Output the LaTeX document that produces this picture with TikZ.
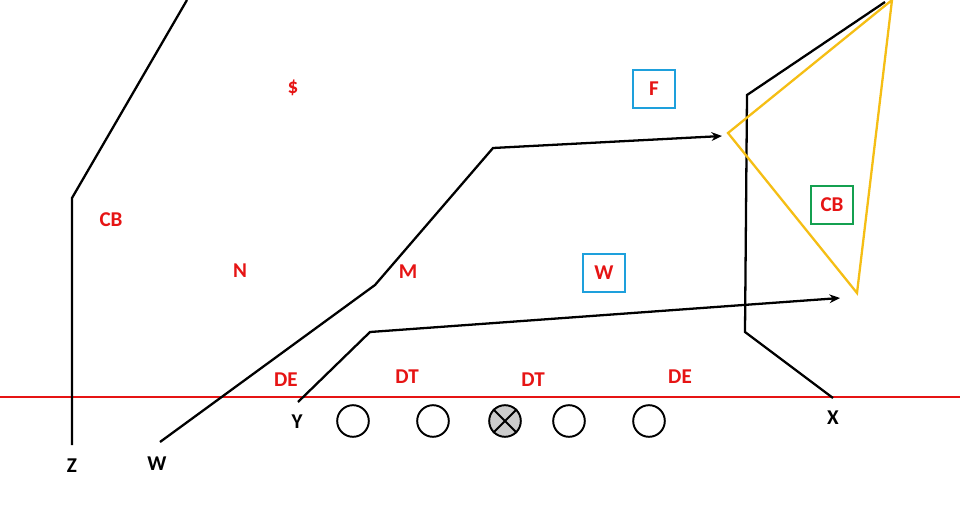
\documentclass[tikz,border=0pt]{standalone}
\usepackage{fontspec}
\setmainfont{Carlito}
\usetikzlibrary{arrows.meta}
\definecolor{rd}{RGB}{230,20,20}
\definecolor{bl}{RGB}{30,160,220}
\definecolor{gr}{RGB}{20,160,80}
\definecolor{yl}{RGB}{245,190,20}
\begin{document}
\begin{tikzpicture}[x=0.02cm,y=-0.02cm,
 route/.style={draw=black,line width=1.3pt},
 arr/.style={route,-{Stealth[length=6pt,width=5pt]}},
 lbl/.style={text=rd,font=\bfseries\large},
 pl/.style={text=black,font=\bfseries\large},
 bx/.style={lbl,draw,line width=1.2pt,minimum width=24pt,minimum height=22pt,inner sep=0pt},
 ol/.style={draw=black,line width=1.1pt,circle,minimum size=18pt,inner sep=0pt}]
\useasboundingbox[fill=white] (0,0) rectangle (960,504);
\draw[rd,line width=1.2pt] (0,397) -- (960,397);
% players
\node[ol] (o1) at (353,421) {};
\node[ol] (o2) at (433,421) {};
\node[ol,fill=gray!40] (c) at (505,421) {};
\draw[line width=1.1pt] (c.north west) -- (c.south east) (c.north east) -- (c.south west);
\node[ol] (o4) at (569,421) {};
\node[ol] (o5) at (649,421) {};
\node[pl] (Z) at (72,466) {Z};
\node[pl] (W) at (157,464) {W};
\node[pl] (Y) at (297,422) {Y};
\node[pl] (X) at (833,418) {X};
% defense
\node[lbl] at (111,220) {CB};
\node[lbl] at (240,271) {N};
\node[lbl] at (293,88) {\$};
\node[lbl] at (408,272) {M};
\node[lbl] at (286,380) {DE};
\node[lbl] at (407,377) {DT};
\node[lbl] at (533,380) {DT};
\node[lbl] at (680,377) {DE};
\node[bx,draw=bl] (F) at (654,89) {F};
\node[bx,draw=bl] (Wb) at (604,273) {W};
\node[bx,draw=gr] (CB) at (832,205) {CB};
% routes
\coordinate (z0) at (72,445); \coordinate (z1) at (72,198); \coordinate (z2) at (187,0);
\draw[route] (z0) -- (z1) -- (z2);
\coordinate (w0) at (160,442); \coordinate (w1) at (375,285); \coordinate (w2) at (493,148); \coordinate (w3) at (722,136);
\draw[arr] (w0) -- (w1) -- (w2) -- (w3);
\coordinate (y0) at (298,402); \coordinate (y1) at (370,332); \coordinate (y2) at (840,298);
\draw[arr] (y0) -- (y1) -- (y2);
\coordinate (x0) at (833,398); \coordinate (x1) at (745,332); \coordinate (x2) at (747,95); \coordinate (x3) at (885,2);
\draw[route] (x0) -- (x1) -- (x2) -- (x3);
\coordinate (t1) at (728,133); \coordinate (t2) at (892,0); \coordinate (t3) at (857,293);
\draw[yl,line width=1.3pt] (t1) -- (t2) -- (t3) -- cycle;
\end{tikzpicture}
\end{document}
